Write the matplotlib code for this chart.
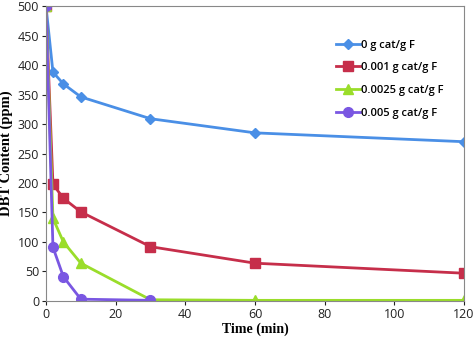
import matplotlib.pyplot as plt

time = [0, 2, 5, 10, 30, 60, 120]
time_p = [0, 2, 5, 10, 30]
dbt_0 = [500, 388, 368, 346, 309, 285, 270]
dbt_001 = [500, 198, 174, 151, 92, 64, 47]
dbt_0025 = [500, 140, 100, 64, 2, 1, 1]
dbt_005 = [500, 91, 41, 3, 1]

fig = plt.figure(figsize=(4.74, 3.37), dpi=100)
ax = fig.add_axes([0.097, 0.107, 0.882, 0.875])

ax.plot(time, dbt_0, color='#4a8fe6', marker='D', markersize=5, linewidth=2, label='0 g cat/g F')
ax.plot(time, dbt_001, color='#c62e4a', marker='s', markersize=7, linewidth=2, label='0.001 g cat/g F')
ax.plot(time, dbt_0025, color='#9add2a', marker='^', markersize=7, linewidth=2, label='0.0025 g cat/g F')
ax.plot(time_p, dbt_005, color='#7a57e2', marker='o', markersize=7, linewidth=2, label='0.005 g cat/g F')

ax.set_xlim(0, 120)
ax.set_ylim(0, 500)
ax.set_xticks(range(0, 121, 20))
ax.set_yticks(range(0, 501, 50))
for s in ax.spines.values():
    s.set_color('#888888')
ax.tick_params(labelsize=9, colors='#222222', length=3, pad=2)
for lbl in ax.get_xticklabels() + ax.get_yticklabels():
    lbl.set_family('Open Sans')

ax.set_xlabel('Time (min)', family='Liberation Serif', fontweight='bold', fontsize=10)
ax.set_ylabel('DBT Content (ppm)', family='Liberation Serif', fontweight='bold', fontsize=10.5)
ax.xaxis.set_label_coords(0.5, -0.072)
ax.yaxis.set_label_coords(-0.078, 0.5)

leg = ax.legend(loc='upper right', bbox_to_anchor=(0.975, 0.92), frameon=False,
                handlelength=2.2, handletextpad=0.1, labelspacing=1.05,
                prop={'family': 'Open Sans', 'size': 8, 'weight': 'semibold'})

fig.savefig('out.png', dpi=100)
